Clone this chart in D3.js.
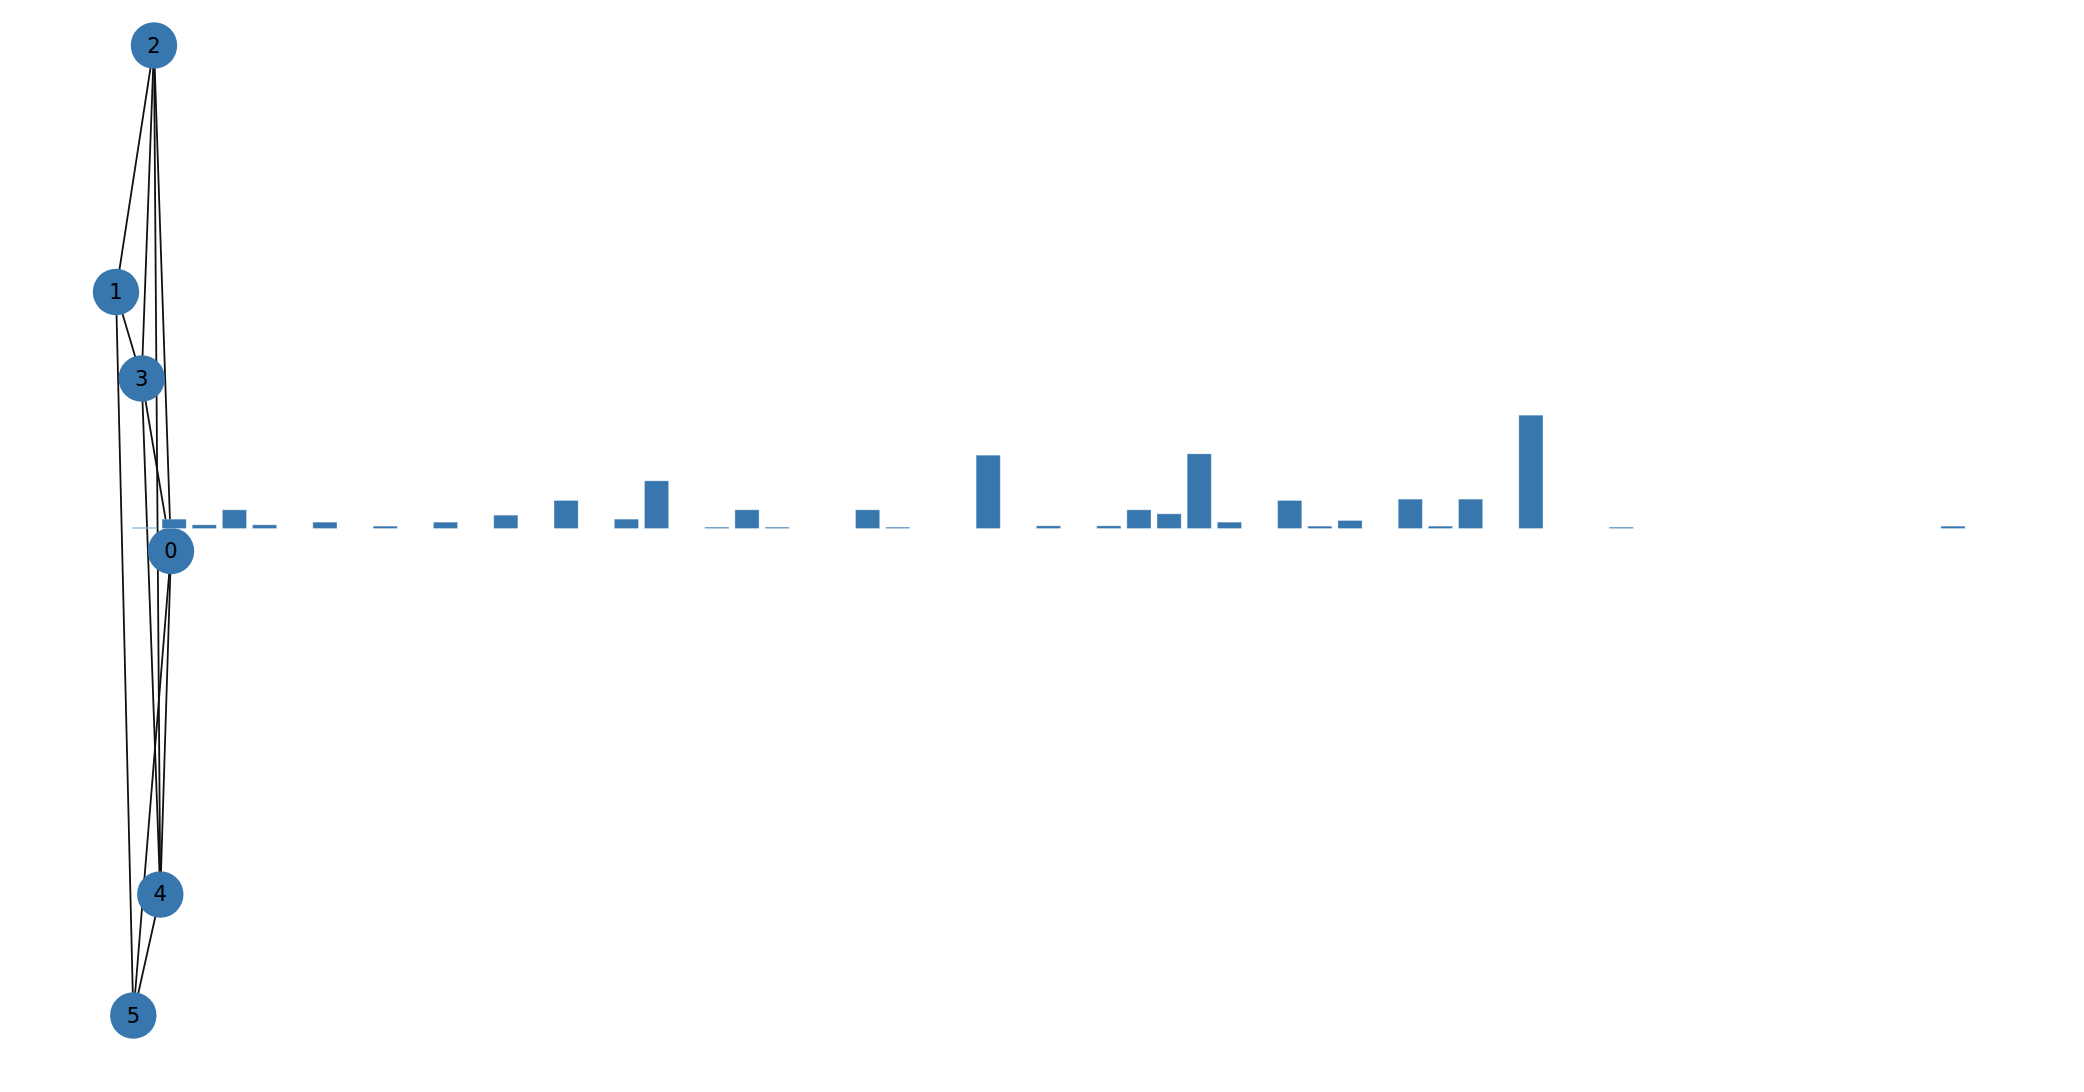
<!DOCTYPE html>
<html>
<head>
<meta charset="utf-8">
<script src="https://cdn.jsdelivr.net/npm/d3@7"></script>
<style>
  html, body { margin: 0; padding: 0; background: #ffffff; }
  svg { display: block; }
</style>
</head>
<body>
<script>
// ---- Graph data (spring-layout style coordinates) ----
const nodeIds = [0, 1, 2, 3, 4, 5];
const nodeX = [0.0567, -0.0567, 0.0216, -0.0037, 0.0346, -0.0210];
const nodeY = [-0.0423, 0.4918, 1.0, 0.3134, -0.7505, -1.0];
const edgeSource = [2, 2, 2, 2, 1, 1, 3, 3, 0, 0, 4];
const edgeTarget = [1, 3, 4, 0, 3, 5, 0, 4, 4, 5, 5];

// ---- Bar data ----
const barCategories = d3.range(0, 61);
const barValues = [
  3, 28, 11, 56, 11, 0, 19, 0, 7, 0,
  19, 0, 40, 0, 84, 0, 28, 143, 0, 4,
  56, 4, 0, 0, 56, 4, 0, 0, 220, 0,
  8, 0, 8, 56, 44, 224, 19, 0, 84, 7,
  24, 0, 88, 7, 88, 0, 340, 0, 0, 4,
  0, 0, 0, 0, 0, 0, 0, 0, 0, 0,
  7
];

const W = 2084, H = 1092;
const blue = "#3876ae";

const svg = d3.select("body").append("svg")
  .attr("width", W).attr("height", H)
  .attr("viewBox", `0 0 ${W} ${H}`);
svg.append("rect").attr("width", W).attr("height", H).attr("fill", "#ffffff");

// Graph scales
const gx = d3.scaleLinear().domain([-1, 1]).range([143.5 - 485, 143.5 + 485]);
const gy = d3.scaleLinear().domain([-1, 1]).range([1015.5, 45.5]);

const nodes = nodeIds.map((id, i) => ({ id, x: nodeX[i], y: nodeY[i] }));
const edges = edgeSource.map((s, i) => ({ s: nodes[s], t: nodes[edgeTarget[i]] }));

const gEdges = svg.append("g");
gEdges.selectAll("line").data(edges).enter().append("line")
  .attr("x1", d => gx(d.s.x)).attr("y1", d => gy(d.s.y))
  .attr("x2", d => gx(d.t.x)).attr("y2", d => gy(d.t.y))
  .attr("stroke", "#111111").attr("stroke-width", 1.8);

const gNodes = svg.append("g");
gNodes.selectAll("circle").data(nodes).enter().append("circle")
  .attr("cx", d => gx(d.x)).attr("cy", d => gy(d.y))
  .attr("r", 23.2).attr("fill", blue);
gNodes.selectAll("text").data(nodes).enter().append("text")
  .attr("x", d => gx(d.x)).attr("y", d => gy(d.y))
  .attr("text-anchor", "middle").attr("dominant-baseline", "central")
  .attr("font-family", "DejaVu Sans, sans-serif").attr("font-size", 21)
  .attr("fill", "#000000")
  .text(d => d.id);

// Bar scales
const bx = d3.scaleLinear().domain([0, 60]).range([144, 1953]);
const step = bx(1) - bx(0);
const bw = step * 0.8;
const by = d3.scaleLinear().domain([0, d3.max(barValues)]).range([528.5, 528.5 - 113.3]);

const barData = barCategories.map((c, i) => ({ c, v: barValues[i] })).filter(d => d.v > 0);
svg.append("g").selectAll("rect").data(barData).enter().append("rect")
  .attr("x", d => bx(d.c) - bw / 2)
  .attr("y", d => by(d.v))
  .attr("width", bw)
  .attr("height", d => by(0) - by(d.v))
  .attr("fill", blue)
  .attr("stroke", "#ffffff").attr("stroke-opacity", 0.3).attr("stroke-width", 1);
</script>
</body>
</html>
